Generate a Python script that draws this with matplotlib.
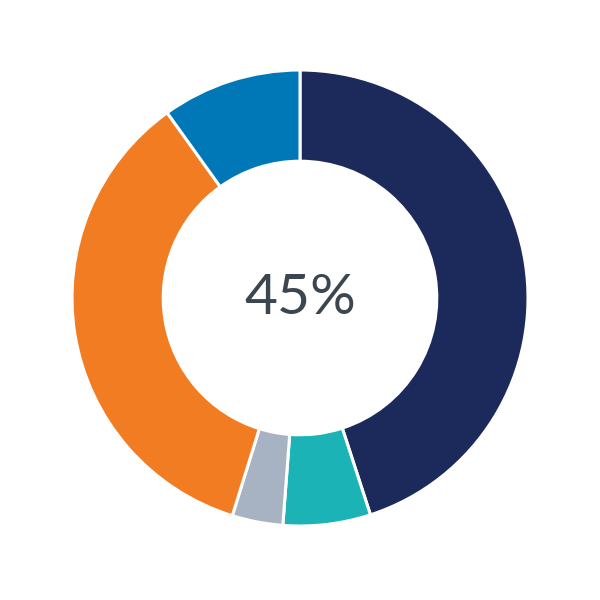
import matplotlib
matplotlib.use('Agg')
from matplotlib import pyplot as plt

labels = ['Navy', 'Teal', 'Gray', 'Orange', 'Blue']
values = [45, 6.2, 3.6, 35.3, 9.9]
colors = ['#1b2a5a', '#1bb3b6', '#a7b3c3', '#f27c21', '#0077b6']
center_text = '45%'

fig = plt.figure(figsize=(6, 6), dpi=100)
ax = fig.add_axes([0, 0, 1, 1])

r_px = 228
ax.pie(values, colors=colors, startangle=90, counterclock=False,
       radius=1.0,
       wedgeprops=dict(width=0.4, edgecolor='white', linewidth=2.2))

ax.text(0, 0, center_text, ha='center', va='center',
        fontsize=41, color='#3b4650', family=['Lato', 'DejaVu Sans'])

ax.set_xlim(-300 / r_px, 300 / r_px)
ax.set_ylim(-302 / r_px, 298 / r_px)
ax.set_aspect('equal')
ax.axis('off')

plt.savefig('out.png', dpi=100, facecolor='white')
